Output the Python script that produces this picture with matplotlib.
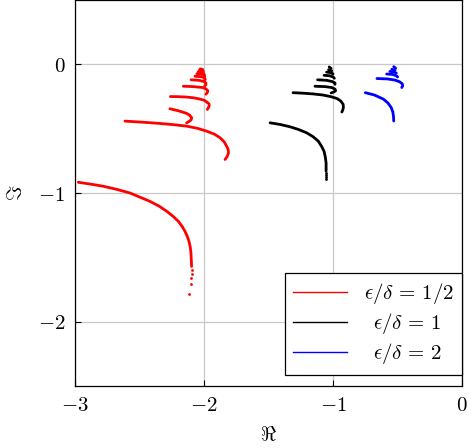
import matplotlib.pyplot as plt
from matplotlib.lines import Line2D

plt.rcParams['mathtext.fontset'] = 'cm'
plt.rcParams['font.family'] = ['DejaVu Serif']

# branches for eps/delta = 1/2 (red)
red_x = [
    [-2.974, -2.88, -2.78, -2.68, -2.574, -2.50, -2.419, -2.35, -2.289, -2.24, -2.199,
     -2.17, -2.147, -2.13, -2.116, -2.106, -2.101, -2.098, -2.096],
    [-2.612, -2.48, -2.341, -2.24, -2.134, -2.05, -1.979, -1.92, -1.876, -1.845, -1.824,
     -1.813, -1.81, -1.82, -1.837],
    [-2.264, -2.20, -2.134, -2.11, -2.095, -2.10, -2.12, -2.134],
    [-2.26, -2.20, -2.134, -2.08, -2.03, -1.995, -1.979, -1.962, -1.959, -1.965, -1.974],
    [-2.16, -2.08, -2.01, -1.985, -1.97, -1.975, -1.985],
    [-2.10, -2.04, -2.00, -1.985, -1.985, -1.995],
    [-2.07, -2.02, -1.995, -1.99, -2.00],
    [-2.055, -2.015, -1.995, -1.995],
    [-2.045, -2.01, -2.00],
    [-2.035, -2.005],
    [-2.03, -2.01],
]
red_y = [
    [-0.916, -0.93, -0.947, -0.97, -0.999, -1.03, -1.064, -1.10, -1.141, -1.18, -1.219,
     -1.258, -1.297, -1.335, -1.375, -1.42, -1.466, -1.52, -1.57],
    [-0.441, -0.449, -0.459, -0.468, -0.480, -0.497, -0.519, -0.542, -0.570, -0.60, -0.636,
     -0.66, -0.687, -0.715, -0.739],
    [-0.345, -0.36, -0.381, -0.396, -0.415, -0.432, -0.446, -0.454],
    [-0.25, -0.251, -0.254, -0.26, -0.27, -0.28, -0.293, -0.305, -0.319, -0.335, -0.35],
    [-0.17, -0.173, -0.18, -0.19, -0.205, -0.22, -0.232],
    [-0.12, -0.124, -0.133, -0.145, -0.158, -0.168],
    [-0.092, -0.096, -0.105, -0.117, -0.128],
    [-0.072, -0.076, -0.085, -0.096],
    [-0.058, -0.062, -0.072],
    [-0.046, -0.052],
    [-0.035, -0.04],
]
red_tail_x = [-2.096, -2.096, -2.097, -2.10, -2.114]
red_tail_y = [-1.60, -1.63, -1.66, -1.71, -1.785]

# eps/delta = 1 (black)
black_x = [
    [-1.488, -1.41, -1.333, -1.27, -1.204, -1.155, -1.114, -1.09, -1.07, -1.06, -1.054, -1.054],
    [-1.31, -1.23, -1.15, -1.08, -1.02, -0.97, -0.94, -0.922, -0.92, -0.925, -0.932],
    [-1.14, -1.06, -1.01, -0.985, -0.98, -0.995, -1.015],
    [-1.12, -1.05, -1.005, -0.985, -0.985],
    [-1.07, -1.03, -1.00, -0.99],
    [-1.05, -1.02, -1.00],
    [-1.035, -1.01],
    [-1.03, -1.015],
]
black_y = [
    [-0.454, -0.467, -0.485, -0.505, -0.532, -0.562, -0.597, -0.635, -0.675, -0.72, -0.765, -0.83],
    [-0.22, -0.224, -0.23, -0.238, -0.25, -0.265, -0.285, -0.31, -0.335, -0.355, -0.37],
    [-0.17, -0.173, -0.18, -0.192, -0.205, -0.215, -0.222],
    [-0.12, -0.124, -0.134, -0.145, -0.155],
    [-0.085, -0.088, -0.097, -0.108],
    [-0.06, -0.064, -0.074],
    [-0.042, -0.05],
    [-0.02, -0.032],
]
black_tail_x = [-1.054, -1.054, -1.055, -1.056]
black_tail_y = [-0.845, -0.86, -0.875, -0.89]

# eps/delta = 2 (blue)
blue_x = [
    [-0.75, -0.68, -0.61, -0.575, -0.55, -0.537, -0.532, -0.53],
    [-0.66, -0.58, -0.52, -0.485, -0.465, -0.46, -0.468],
    [-0.585, -0.54, -0.51, -0.50],
    [-0.56, -0.53, -0.51],
    [-0.545, -0.52],
    [-0.53, -0.515],
]
blue_y = [
    [-0.22, -0.238, -0.27, -0.30, -0.335, -0.37, -0.405, -0.44],
    [-0.11, -0.113, -0.122, -0.135, -0.15, -0.165, -0.18],
    [-0.075, -0.078, -0.088, -0.098],
    [-0.055, -0.058, -0.068],
    [-0.038, -0.046],
    [-0.018, -0.03],
]

# shorter labels are shifted so they sit centred like the pgfplots legend
labels = [r'$\epsilon/\delta\,=\,1/2$', r'$\hspace{0.5}\epsilon/\delta\,=\,1$',
          r'$\hspace{0.5}\epsilon/\delta\,=\,2$']
colors = ['#ff0000', '#000000', '#0000ff']

fig = plt.figure(figsize=(4.74, 4.48), dpi=100)
ax = fig.add_axes([0.158, 0.138, 0.817, 0.862])

for xs_list, ys_list, c in zip([red_x, black_x, blue_x], [red_y, black_y, blue_y], colors):
    for xs, ys in zip(xs_list, ys_list):
        ax.plot(xs, ys, color=c, lw=2.0, solid_capstyle='round', solid_joinstyle='round')

ax.plot(red_tail_x, red_tail_y, 'o', color=colors[0], ms=2.0, mew=0)
ax.plot(black_tail_x, black_tail_y, 'o', color=colors[1], ms=2.0, mew=0)

ax.set_xlim(-3, 0)
ax.set_ylim(-2.5, 0.5)
ax.set_xticks([-3, -2, -1, 0])
ax.set_yticks([-2, -1, 0])
ax.set_xticklabels([r'$-3$', r'$-2$', r'$-1$', r'$0$'])
ax.set_yticklabels([r'$-2$', r'$-1$', r'$0$'])
ax.tick_params(labelsize=15, direction='in', length=4, width=0.8, pad=7)
ax.grid(True, color='#c8c8c8', lw=0.9)
ax.set_axisbelow(True)
for s in ax.spines.values():
    s.set_linewidth(0.9)

ax.set_xlabel(r'$\Re$', fontsize=15, labelpad=8)
ax.set_ylabel(r'$\Im$', fontsize=15, labelpad=8)

handles = [Line2D([], [], color=c, lw=1.0) for c in colors]
leg = ax.legend(handles, labels, loc='lower right', bbox_to_anchor=(1.0, 0.03),
                borderaxespad=0, fontsize=15, fancybox=False, framealpha=1,
                edgecolor='black', handlelength=2.6, labelspacing=0.25,
                borderpad=0.4)
leg.get_frame().set_linewidth(0.9)

plt.savefig('out.png', dpi=100)
